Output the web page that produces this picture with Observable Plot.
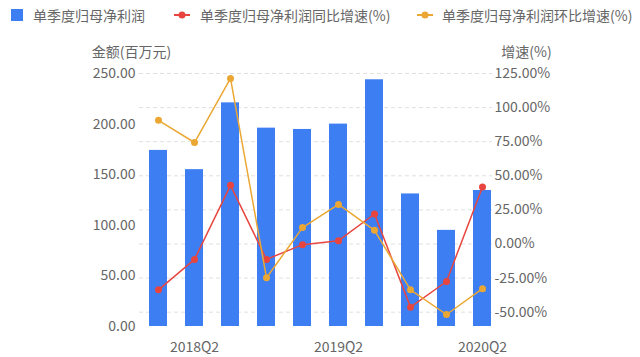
<!DOCTYPE html>
<html><head><meta charset="utf-8">
<script src="https://cdn.jsdelivr.net/npm/d3@7"></script>
<script src="https://cdn.jsdelivr.net/npm/@observablehq/plot@0.6"></script>
<style>
body{margin:0;background:#fff;font-family:"Noto Sans CJK SC","Noto Sans",sans-serif;}
#legend{position:relative;height:30px;width:640px;font-size:14px;color:#666;}
.item{position:absolute;top:0;height:29px;display:flex;align-items:center;white-space:nowrap;}
</style></head><body>
<div id="legend"></div>
<div id="chart"></div>
<script>
const quarters = ["2018Q1","2018Q2","2018Q3","2018Q4","2019Q1","2019Q2","2019Q3","2019Q4","2020Q1","2020Q2"];
const profit = [174, 155, 221, 196, 194.7, 200, 243.8, 131, 95, 134.4];
const yoy = [-33.6, -11.3, 43, -11.3, -0.5, 2.4, 22, -46.3, -27.5, 41.8];
const qoq = [90.7, 74.4, 121.4, -24.8, 12, 29, 10, -33.6, -51.7, -32.8];
const leftTicks = [0, 50, 100, 150, 200, 250];
const rightTicks = [-50, -25, 0, 25, 50, 75, 100, 125];
const xLabels = ["2018Q2", "2019Q2", "2020Q2"];
const seriesNames = ["单季度归母净利润", "单季度归母净利润同比增速(%)", "单季度归母净利润环比增速(%)"];
const colors = ["#3d7ff3", "#e8453f", "#eba733"];

const pctDomain = [-60.5, 125];
const toAmt = p => (p - pctDomain[0]) / (pctDomain[1] - pctDomain[0]) * 250;
const toPct = a => a / 250 * (pctDomain[1] - pctDomain[0]) + pctDomain[0];

// legend
const legend = document.getElementById("legend");
const pos = [[11, 33], [174, 200], [417, 442]];
seriesNames.forEach((name, i) => {
  const m = document.createElement("div");
  m.className = "item";
  m.style.left = pos[i][0] + "px";
  m.innerHTML = i === 0
    ? `<svg width="12" height="12"><rect width="12" height="12" fill="${colors[0]}"/></svg>`
    : `<svg width="16" height="10"><line x1="0" x2="16" y1="5" y2="5" stroke="${colors[i]}" stroke-width="2"/><circle cx="8" cy="5" r="3.5" fill="${colors[i]}"/></svg>`;
  legend.appendChild(m);
  const t = document.createElement("div");
  t.className = "item";
  t.style.left = pos[i][1] + "px";
  t.textContent = name;
  legend.appendChild(t);
});

const data = quarters.map((q, i) => ({q, profit: profit[i], yoy: yoy[i], qoq: qoq[i]}));
const font = '"Noto Sans CJK SC","Noto Sans",sans-serif';

const chart = Plot.plot({
  width: 640, height: 327,
  marginLeft: 139, marginRight: 148, marginTop: 43, marginBottom: 31,
  style: {fontFamily: font, fontSize: "14px", color: "#666", background: "#fff"},
  x: {domain: quarters, range: [129.8, 510.2], padding: 0.5, axis: null},
  y: {domain: [0, 250], axis: null},
  marks: [
    Plot.ruleY(rightTicks.map(toAmt), {stroke: "#e0e0e0", strokeDasharray: "4,3"}),
    Plot.barY(data, {x: "q", y: "profit", fill: colors[0]}),
    Plot.line(data, {x: "q", y: d => toAmt(d.yoy), stroke: colors[1], strokeWidth: 1.5}),
    Plot.dot(data, {x: "q", y: d => toAmt(d.yoy), fill: colors[1], r: 3.5}),
    Plot.line(data, {x: "q", y: d => toAmt(d.qoq), stroke: colors[2], strokeWidth: 1.5}),
    Plot.dot(data, {x: "q", y: d => toAmt(d.qoq), fill: colors[2], r: 3.5}),
    Plot.axisY(leftTicks, {anchor: "left", tickSize: 0, tickPadding: 4, label: null, tickFormat: d => d.toFixed(2), fontSize: 14, fill: "#666"}),
    Plot.axisY(rightTicks.map(toAmt), {anchor: "right", tickSize: 0, tickPadding: 2, label: null, tickFormat: d => Math.round(toPct(d)).toFixed(2) + "%", fontSize: 14, fill: "#666"}),
    Plot.axisX(xLabels, {tickSize: 0, tickPadding: 16, label: null, fontSize: 14, fill: "#666"}),
    Plot.text(["金额(百万元)"], {frameAnchor: "top-left", dx: -8, dy: -26, textAnchor: "middle", fontSize: 14, fill: "#666"}),
    Plot.text(["增速(%)"], {frameAnchor: "top-right", dx: 34, dy: -26, textAnchor: "middle", fontSize: 14, fill: "#666"})
  ]
});
document.getElementById("chart").appendChild(chart);
</script>
</body></html>
